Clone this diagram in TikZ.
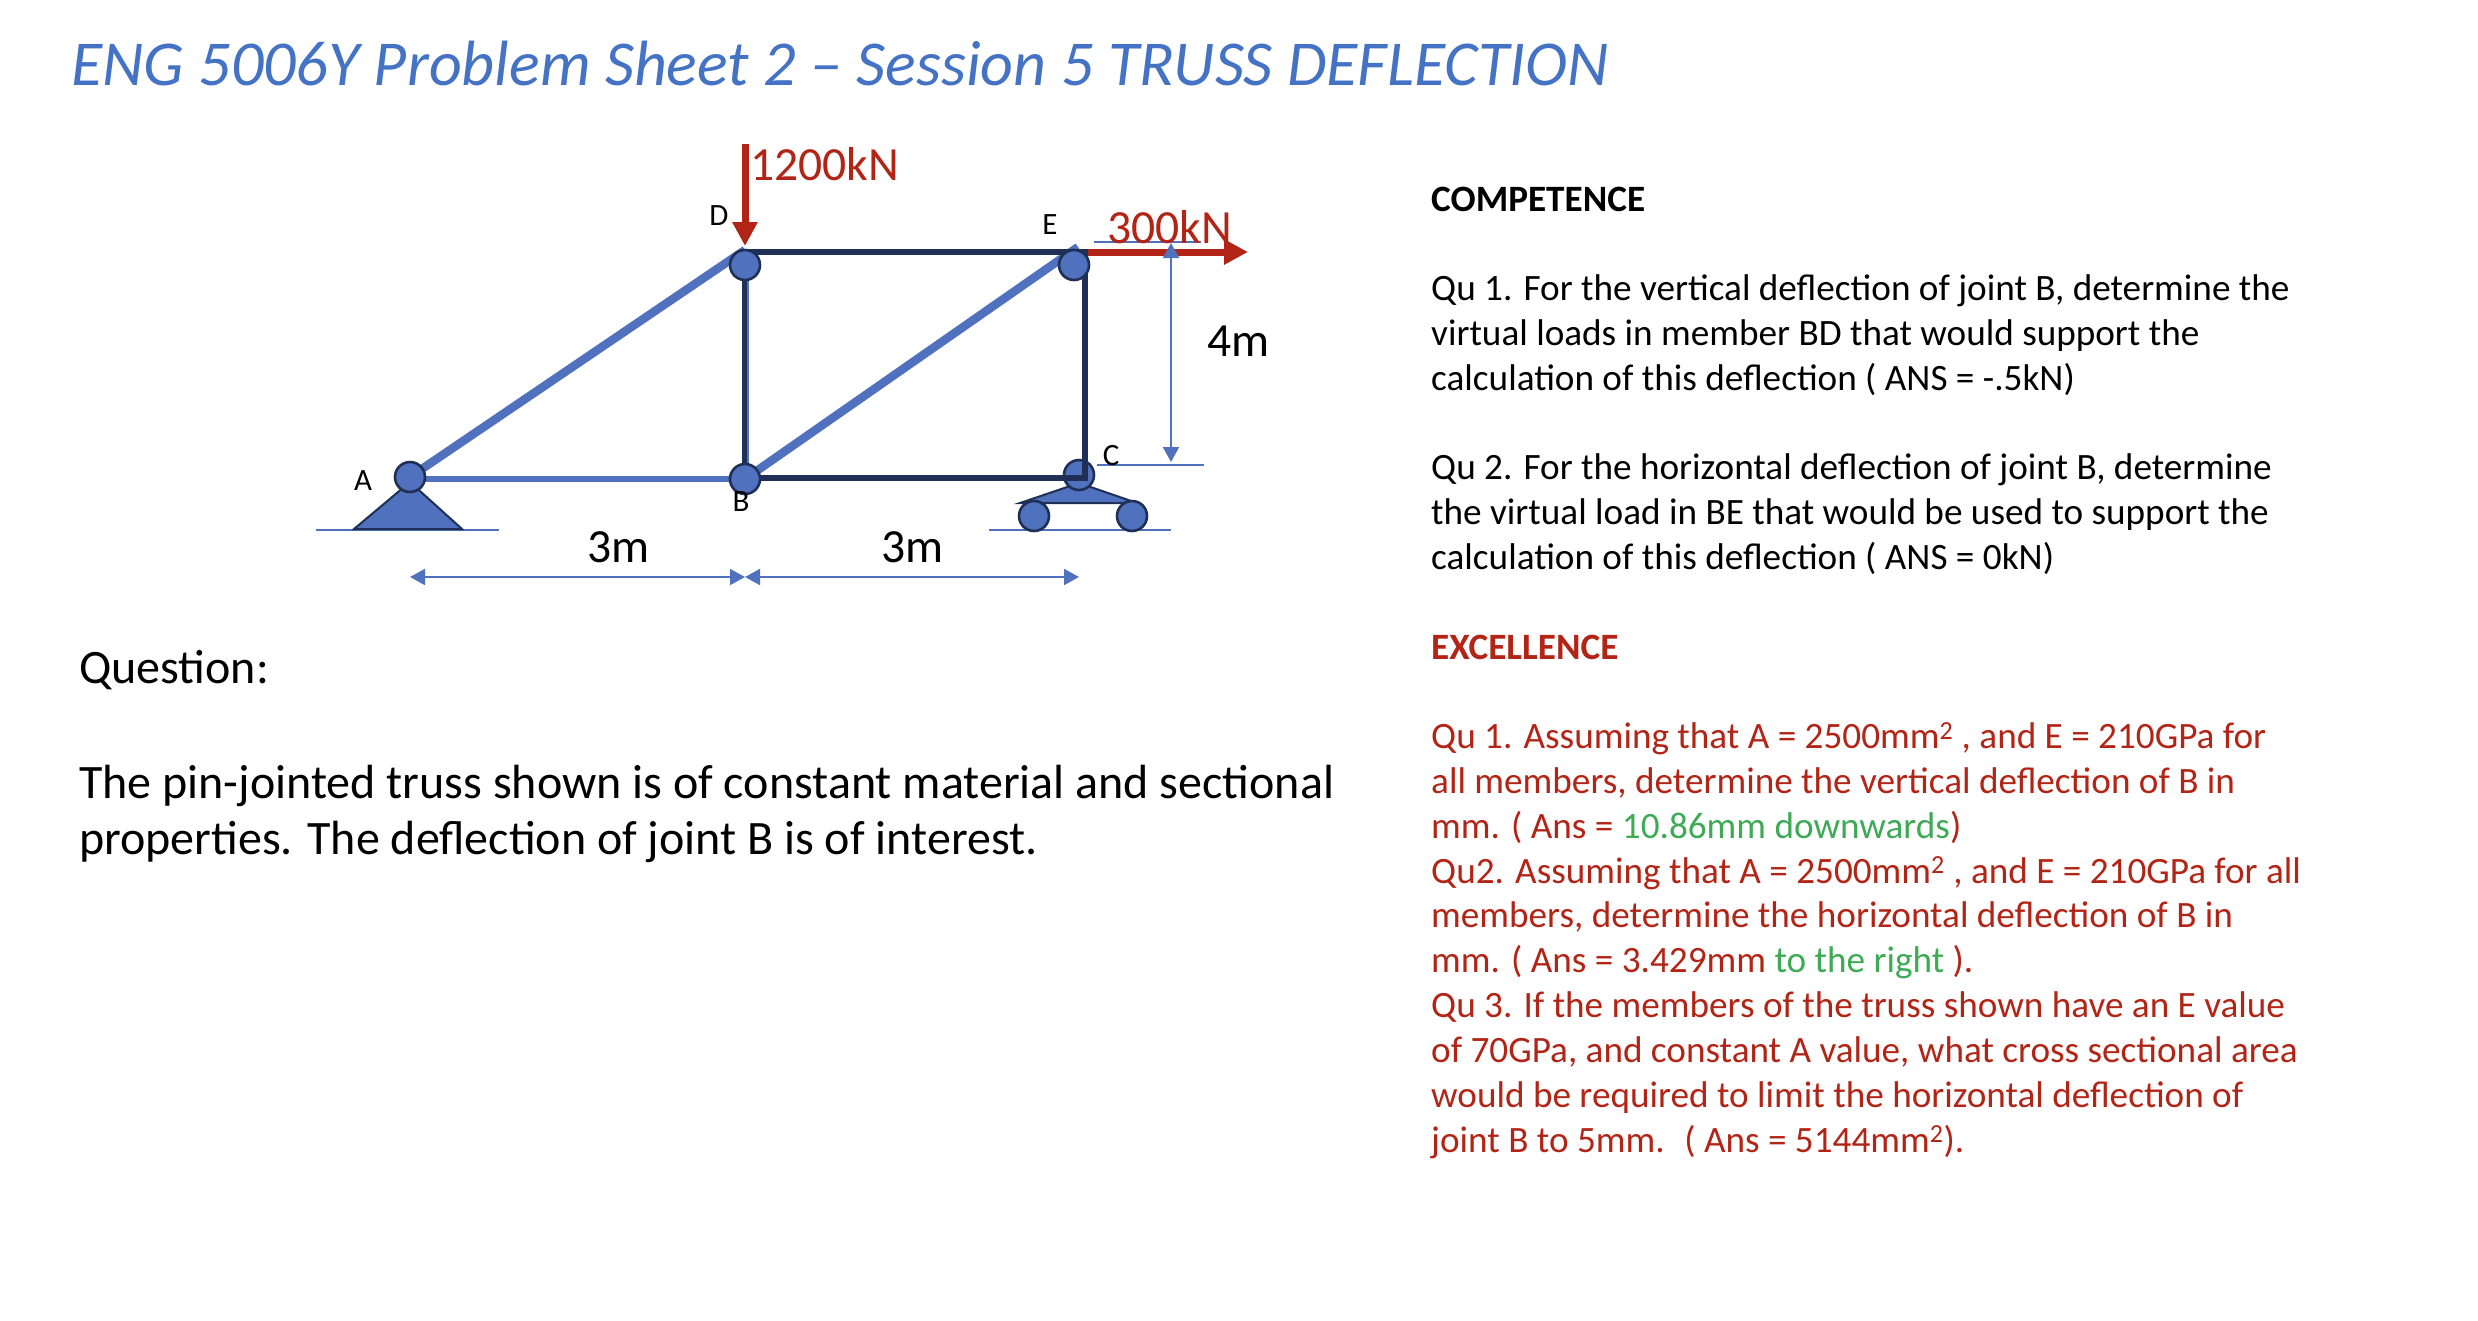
\documentclass[tikz,border=0pt]{standalone}
\usepackage{fontspec}
\setmainfont{Carlito}
\usetikzlibrary{arrows.meta}
\definecolor{tblue}{HTML}{4472C4}
\definecolor{jblue}{HTML}{4F71BE}
\definecolor{dnavy}{HTML}{1F2F55}
\definecolor{tred}{HTML}{B22516}
\definecolor{tgreen}{HTML}{3EAA56}
\tikzset{
 x=1pt,y=-1pt,
 member/.style={draw=jblue,line width=8.5pt},
 darkmember/.style={draw=dnavy,line width=6pt},
 jointc/.style={circle,draw=dnavy,line width=2.6pt,fill=jblue,minimum size=30pt,inner sep=0pt},
 support/.style={draw=dnavy,line width=2pt,fill=jblue},
 ground/.style={draw=jblue,line width=1.5pt},
 dim/.style={draw=jblue,line width=2pt,{Triangle[length=15pt,width=16pt]}-{Triangle[length=15pt,width=16pt]}},
 load/.style={draw=tred,line width=7pt,-{Triangle[length=24pt,width=24pt]}},
 lab/.style={anchor=base west,inner sep=0pt,font=\fontsize{47.6}{47.6}\selectfont},
 body/.style={anchor=base west,inner sep=0pt,font=\fontsize{48}{48}\selectfont},
 small/.style={anchor=base,inner sep=0pt,font=\fontsize{31}{31}\selectfont},
 rt/.style={anchor=base west,inner sep=0pt,font=\fontsize{37.2}{37.2}\selectfont},
 rtb/.style={anchor=base west,inner sep=0pt,font=\fontsize{37.2}{37.2}\selectfont\bfseries},
 ttl/.style={anchor=base west,inner sep=0pt,text=tblue,font=\fontsize{64}{64}\selectfont\itshape},
}
\begin{document}
\begin{tikzpicture}
\useasboundingbox (0,0) rectangle (2478,1320);
\node[ttl] (title) at (71,85) {ENG 5006Y Problem Sheet 2 – Session 5 TRUSS DEFLECTION};
% coordinates
\coordinate (Atop) at (410,477);
\coordinate (Dtop) at (745,250);
\coordinate (Etip) at (1078,247);
\coordinate (Bb) at (745,479);
\coordinate (Ab) at (410,479);
\coordinate (Tl) at (745,252);
\coordinate (Tr) at (1088,252);
% supports
\draw[ground] (316,530) coordinate (g1) -- (499,530) coordinate (g2);
\draw[ground] (989,530) coordinate (g3) -- (1171,530) coordinate (g4);
\draw[support] (354,529) coordinate (ta) -- (410,482) coordinate (tb) -- (462,529) coordinate (tc) -- cycle;
\draw[support] (1020,503) coordinate (ra) -- (1079,483) coordinate (rb) -- (1137,503) coordinate (rc) -- cycle;
% members
\draw[member,line width=2pt] (748,252) coordinate (bv1) -- (748,478) coordinate (bv2);
\draw[member] (Atop) -- (Dtop);
\draw[member,line width=6pt] (Ab) -- (Bb);
\draw[member] (Bb) -- (Etip);
\node[jointc] (C) at (1079,475) {};
\node[jointc] (R1) at (1034,516) {};
\node[jointc] (R2) at (1132,516) {};
\draw[load] (1076,252) coordinate (f1) -- (1248,252) coordinate (f2);
\draw[load] (745,144) coordinate (f3) -- (745,246) coordinate (f4);
\draw[darkmember] (Tl) -- (Tr);
\draw[darkmember] (1085,249) coordinate (rt) -- (1085,481) coordinate (rb2);
\draw[darkmember] (Bb) ++(0,-1) -- (1088,478) coordinate (br);
\draw[draw=dnavy,line width=5pt] (744,252) coordinate (dv1) -- (744,479) coordinate (dv2);
\node[jointc] (A) at (410,477) {};
\node[jointc] (B) at (745,479) {};
\node[jointc] (D) at (745,265) {};
\node[jointc] (E) at (1074,265) {};
% dimensions
\draw[ground] (1094,242) coordinate (d1) -- (1201,242) coordinate (d2);
\draw[ground] (1097,465) coordinate (d3) -- (1204,465) coordinate (d4);
\draw[dim] (1171,243) coordinate (d5) -- (1171,462) coordinate (d6);
\draw[dim] (410,577) coordinate (d7) -- (745,577) coordinate (d8);
\draw[dim] (745,577) -- (1079,577) coordinate (d9);
% labels
\node[small] (lA) at (363,490) {A};
\node[small] (lB) at (741,511) {B};
\node[small] (lC) at (1111,465) {C};
\node[small] (lD) at (719,225) {D};
\node[small] (lE) at (1050,234) {E};
\node[lab,text=tred] (l1200) at (750,180) {1200kN};
\node[lab,text=tred] (l300) at (1107,243) {300kN};
\node[lab] (l4m) at (1207,356) {4m};
\node[lab] (l3a) at (587,562) {3m};
\node[lab] (l3b) at (881,562) {3m};
% left text
\node[body] (q0) at (79,683) {Question:};
\node[body] (q1) at (79,798) {The pin-jointed truss shown is of constant material and sectional};
\node[body] (q2) at (79,854) {properties. The deflection of joint B is of interest.};
% right text
\node[rtb] (c0) at (1431,211) {COMPETENCE};
\node[rt] (c1) at (1431,300.4) {Qu 1. For the vertical deflection of joint B, determine the};
\node[rt] (c2) at (1431,345.2) {virtual loads in member BD that would support the};
\node[rt] (c3) at (1431,390) {calculation of this deflection ( ANS = -.5kN)};
\node[rt] (c4) at (1431,479.7) {Qu 2. For the horizontal deflection of joint B, determine};
\node[rt] (c5) at (1431,524.5) {the virtual load in BE that would be used to support the};
\node[rt] (c6) at (1431,569.3) {calculation of this deflection ( ANS = 0kN)};
\begin{scope}[every node/.append style={text=tred}]
\node[rtb] (e0) at (1431,659) {EXCELLENCE};
\node[rt] (e1) at (1431,748.6) {Qu 1. Assuming that A = 2500mm\textsuperscript{2} , and E = 210GPa for};
\node[rt] (e2) at (1431,793.4) {all members, determine the vertical deflection of B in};
\node[rt] (e3) at (1431,838.2) {mm. ( Ans = \textcolor{tgreen}{10.86mm downwards})};
\node[rt] (e4) at (1431,883) {Qu2. Assuming that A = 2500mm\textsuperscript{2} , and E = 210GPa for all};
\node[rt] (e5) at (1431,927.9) {members, determine the horizontal deflection of B in};
\node[rt] (e6) at (1431,972.7) {mm. ( Ans = 3.429mm \textcolor{tgreen}{to the right} ).};
\node[rt] (e7) at (1431,1017.5) {Qu 3. If the members of the truss shown have an E value};
\node[rt] (e8) at (1431,1062.3) {of 70GPa, and constant A value, what cross sectional area};
\node[rt] (e9) at (1431,1107.1) {would be required to limit the horizontal deflection of};
\node[rt] (e10) at (1431,1152) {joint B to 5mm.~ ( Ans = 5144mm\textsuperscript{2}).};
\end{scope}
\end{tikzpicture}
\end{document}
